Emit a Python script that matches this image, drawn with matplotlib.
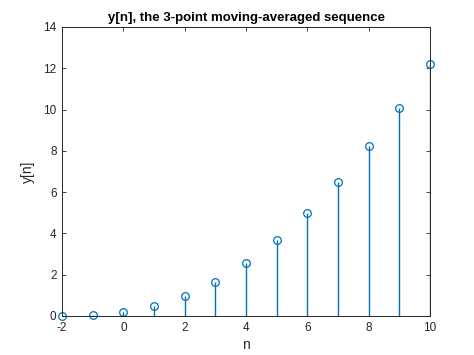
import matplotlib
matplotlib.use("Agg")
import matplotlib.pyplot as plt

plt.rcParams["font.family"] = ["Liberation Sans", "DejaVu Sans"]
plt.rcParams["axes.unicode_minus"] = False

# sample index and averaged values
n = [-2, -1, 0, 1, 2, 3, 4, 5, 6, 7, 8, 9, 10]
y = [0.0, 0.05, 0.19, 0.48, 0.97, 1.66, 2.57, 3.67, 4.99, 6.49, 8.21, 10.08, 12.22]
xticks = [-2, 0, 2, 4, 6, 8, 10]
yticks = [0, 2, 4, 6, 8, 10, 12, 14]

blue = "#0072BD"

fig = plt.figure(figsize=(4.74, 3.55), dpi=100)
ax = fig.add_axes([0.131, 0.110, 0.776, 0.814])

ml, sl, bl = ax.stem(n, y, basefmt=" ")
plt.setp(sl, color=blue, linewidth=1.0)
plt.setp(ml, markerfacecolor="none", markeredgecolor=blue, markersize=5.5,
         markeredgewidth=0.9, clip_on=False)

ax.set_xlim(-2, 10)
ax.set_ylim(0, 14)
ax.set_xticks(xticks)
ax.set_yticks(yticks)
ax.tick_params(direction="in", top=True, right=True, labelsize=8.5, colors="#262626",
               length=3, width=0.6, pad=4)
for s in ax.spines.values():
    s.set_linewidth(0.7)
    s.set_color("#262626")

ax.set_xlabel("n", fontsize=10, color="#262626", labelpad=3)
ax.set_ylabel("y[n]", fontsize=10, color="#262626", labelpad=6)
ax.set_title("y[n], the 3-point moving-averaged sequence", fontsize=9.5, fontweight="bold", pad=4)

fig.savefig("out.png", dpi=100)
